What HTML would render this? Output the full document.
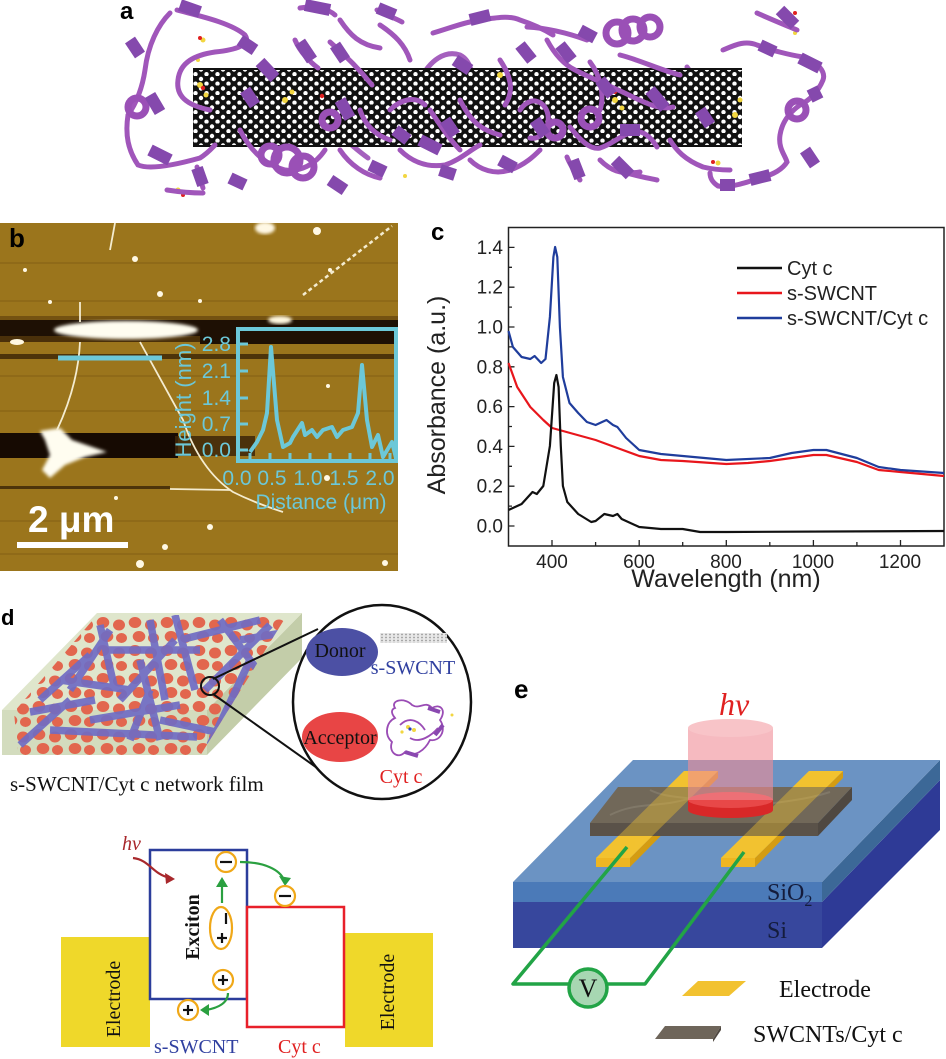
<!DOCTYPE html>
<html><head><meta charset="utf-8">
<style>
html,body{margin:0;padding:0;background:#fff;}
svg{display:block;}
.sans{font-family:"Liberation Sans",Arial,sans-serif;}
.serif{font-family:"Liberation Serif","Times New Roman",serif;}
</style></head>
<body>
<svg xmlns="http://www.w3.org/2000/svg" width="946" height="1059" viewBox="0 0 946 1059">
<defs>
  <pattern id="mesh" width="11" height="9.5" patternUnits="userSpaceOnUse">
    <rect width="11" height="9.5" fill="#111"/>
    <circle cx="3" cy="3" r="2.2" fill="#fff"/>
    <circle cx="8.5" cy="7.7" r="2.2" fill="#fff"/>
  </pattern>
  <pattern id="dots" width="32" height="28" patternUnits="userSpaceOnUse">
    <ellipse cx="7" cy="6.5" rx="6.3" ry="5.5" fill="#e2664e"/>
    <ellipse cx="23" cy="9" rx="6" ry="5.5" fill="#e2664e"/>
    <ellipse cx="11" cy="20.5" rx="6.3" ry="5.5" fill="#e2664e"/>
    <ellipse cx="25.5" cy="22" rx="5.5" ry="5" fill="#e2664e"/>
  </pattern>
  <clipPath id="filmclip"><polygon points="97,615 287,615 200,756 18,756 14,712"/></clipPath>
  <filter id="bl1"><feGaussianBlur stdDeviation="1.5"/></filter>
  <pattern id="cnt" width="4" height="3" patternUnits="userSpaceOnUse">
    <rect width="4" height="3" fill="#e8e8e8"/><circle cx="2" cy="1.5" r="0.9" fill="#999"/>
  </pattern>
</defs>

<!-- ================= PANEL A ================= -->
<text x="120" y="19" class="sans" font-size="24" font-weight="bold">a</text>
<g fill="none" stroke="#a057ba" stroke-width="5" stroke-linecap="round" opacity="0.95">
  <path d="M263,65 C280,80 300,100 318,115 C335,130 350,145 368,158"/>
  <path d="M420,80 C430,60 445,50 460,55 C470,60 475,75 470,90"/>
  <path d="M687,67 C697,80 703,92 703,100 C702,112 698,120 690,126"/>
</g>
<rect x="193" y="68" width="549" height="79" fill="url(#mesh)"/>
<line x1="193" y1="69" x2="742" y2="69" stroke="#111" stroke-width="2"/>
<line x1="193" y1="146" x2="742" y2="146" stroke="#111" stroke-width="2"/>
<g fill="#f2d640">
  <circle cx="200" cy="85" r="3"/><circle cx="206" cy="95" r="2.5"/><circle cx="285" cy="100" r="3"/><circle cx="292" cy="92" r="2.5"/>
  <circle cx="500" cy="75" r="3"/><circle cx="615" cy="100" r="3"/><circle cx="622" cy="108" r="2.5"/><circle cx="735" cy="115" r="3"/><circle cx="740" cy="100" r="2.5"/>
  <circle cx="790" cy="15" r="2.5"/><circle cx="795" cy="33" r="2"/><circle cx="178" cy="190" r="2.5"/><circle cx="405" cy="176" r="2"/><circle cx="718" cy="163" r="2.5"/>
  <circle cx="203" cy="40" r="2.5"/><circle cx="198" cy="60" r="2"/>
</g>
<g fill="#e02020">
  <circle cx="203" cy="88" r="2.2"/><circle cx="322" cy="96" r="2.2"/><circle cx="795" cy="13" r="2"/><circle cx="183" cy="195" r="2"/><circle cx="713" cy="162" r="2"/><circle cx="615" cy="92" r="2"/><circle cx="200" cy="38" r="2"/>
</g>
<g fill="none" stroke="#a056ba" stroke-width="5" stroke-linecap="round">
  <path d="M177,10 C195,15 230,22 245,35 C252,45 235,50 215,52 C195,55 180,62 178,80 C176,95 185,105 210,110"/>
  <path d="M170,13 C158,25 148,45 145,70 C142,90 135,105 128,115 C125,135 128,150 138,165 C150,170 175,165 200,158 C208,153 212,148 215,145"/>
  <path d="M300,8 C315,5 330,10 335,15 M295,40 C300,52 310,62 318,68"/>
  <path d="M330,42 C345,55 360,70 372,85"/>
  <path d="M377,10 C385,15 395,18 402,22 M380,25 C395,35 405,45 410,60"/>
  <path d="M433,33 C450,28 465,22 480,20 C495,18 510,15 520,20 C535,25 545,30 553,35"/>
  <path d="M527,27 C545,28 565,32 587,40"/>
  <path d="M547,40 C555,55 565,65 575,70 C595,80 615,88 635,98 C650,105 662,110 673,107"/>
  <path d="M570,127 C580,140 590,150 600,148 C610,145 618,138 625,135 C635,130 645,128 657,147"/>
  <path d="M567,157 C570,165 575,172 580,180 M627,173 C637,176 648,178 657,180"/>
  <path d="M723,50 C735,45 745,40 757,45 C770,50 790,55 803,57 C818,62 826,72 823,80 C818,92 810,100 800,105 C790,112 782,122 780,135 C778,148 785,155 787,162 C782,170 772,175 760,178 C745,183 730,188 718,186 C712,182 710,178 710,173"/>
  <path d="M757,13 C768,18 785,25 797,30"/>
  <path d="M670,140 C676,150 685,160 703,167 C715,170 725,170 730,170"/>
  <path d="M197,167 C199,175 201,182 203,188 M167,190 C180,192 192,193 203,193"/>
  <path d="M240,130 C250,150 265,165 285,170 C300,172 315,165 325,150"/>
  <path d="M340,150 C350,165 365,175 380,178"/>
  <path d="M400,150 C410,160 425,168 445,165 C460,160 470,150 480,145"/>
  <path d="M470,160 C480,170 495,175 510,170 C525,165 535,155 540,150"/>
  <path d="M500,60 C510,75 515,90 505,105 M460,100 C470,120 480,130 500,135"/>
  <path d="M600,160 C610,170 620,175 640,172"/>
  <path d="M520,110 C530,95 545,100 548,115 C550,130 540,140 530,138"/>
  <path d="M430,110 C440,125 450,140 460,150"/>
  <path d="M340,20 C350,35 360,45 380,48 M590,62 C600,75 605,95 600,110 M390,110 C400,100 415,95 425,105"/>
  <path d="M360,110 C365,125 375,135 390,140 M620,55 C640,60 660,70 680,75"/>
</g>
<g fill="none" stroke="#9a50b6" stroke-width="7">
  <circle cx="137" cy="107" r="9"/><circle cx="287" cy="160" r="13"/><circle cx="303" cy="167" r="11"/><circle cx="270" cy="155" r="9"/>
  <circle cx="617" cy="33" r="11"/><circle cx="633" cy="30" r="11"/><circle cx="650" cy="27" r="10"/><circle cx="797" cy="110" r="9"/>
  <circle cx="555" cy="130" r="8"/><circle cx="590" cy="118" r="9"/><circle cx="330" cy="120" r="8"/>
</g>
<g fill="none" stroke="#8549ad" stroke-width="12" stroke-linecap="butt">
  <path d="M180,5 L200,12 M305,5 L330,10 M300,42 L312,60 M335,45 L345,60 M378,8 L395,15 M260,62 L275,78 M340,100 L350,118"/>
  <path d="M470,20 L490,15 M580,30 L595,38 M560,45 L572,60 M650,90 L665,108 M620,130 L640,130 M615,160 L630,175 M573,160 L580,178"/>
  <path d="M760,45 L775,52 M800,58 L820,68 M812,88 L818,100 M750,180 L770,175 M720,185 L735,185 M150,150 L170,160 M197,168 L203,185"/>
  <path d="M230,178 L245,185 M420,140 L440,150 M500,160 L515,168 M370,165 L385,172 M780,10 L795,25 M445,120 L455,135 M130,40 L140,55"/>
  <path d="M150,95 L160,112 M240,40 L255,50 M455,60 L470,70 M700,110 L710,125 M805,150 L815,165 M440,170 L455,175 M330,180 L345,190"/>
  <path d="M520,45 L532,60 M600,80 L612,95 M395,130 L408,140 M245,90 L255,105 M535,120 L545,135"/>
</g>

<!-- ================= PANEL B (AFM) ================= -->
<rect x="0" y="223" width="398" height="348" fill="#9b751c"/>
<g opacity="0.18" fill="#5a3e08">
  <rect x="0" y="262" width="398" height="2"/><rect x="0" y="300" width="398" height="2"/>
  <rect x="0" y="375" width="398" height="2"/><rect x="0" y="410" width="398" height="2"/>
  <rect x="0" y="520" width="398" height="2"/><rect x="0" y="553" width="398" height="2"/>
</g>
<rect x="0" y="316" width="398" height="4" fill="#5a3a0a" opacity="0.6"/>
<rect x="0" y="320" width="398" height="16" fill="#1e1004"/>
<rect x="200" y="320" width="198" height="24" fill="#1e1004"/>
<rect x="0" y="336" width="200" height="6" fill="#4a300a"/>
<rect x="0" y="354" width="398" height="5" fill="#3a2406" opacity="0.8"/>
<ellipse cx="126" cy="330" rx="72" ry="9" fill="#fffdf0" filter="url(#bl1)"/>
<ellipse cx="17" cy="342" rx="7" ry="3" fill="#fff8e0"/>
<ellipse cx="280" cy="320" rx="12" ry="4" fill="#fff8e0" filter="url(#bl1)"/>
<rect x="0" y="433" width="178" height="25" fill="#160a02"/>
<rect x="175" y="436" width="80" height="20" fill="#3d2608" opacity="0.85"/>
<rect x="0" y="486" width="170" height="3" fill="#3a2406" opacity="0.8"/>
<polygon points="40,431 60,428 72,440 107,452 85,457 65,465 50,478 42,470 50,455 45,440" fill="#fffdf0" filter="url(#bl1)"/>
<g fill="#fff8e4">
  <ellipse cx="265" cy="228" rx="10" ry="6" filter="url(#bl1)"/>
  <circle cx="317" cy="231" r="4"/><circle cx="135" cy="259" r="3"/><circle cx="160" cy="294" r="3"/>
  <circle cx="200" cy="301" r="2"/><circle cx="25" cy="270" r="2"/><circle cx="327" cy="478" r="3"/>
  <circle cx="210" cy="527" r="3"/><circle cx="165" cy="547" r="3"/><circle cx="140" cy="564" r="4"/>
  <circle cx="385" cy="563" r="3"/><circle cx="330" cy="270" r="2"/><circle cx="50" cy="302" r="2"/>
  <circle cx="116" cy="498" r="2"/><circle cx="328" cy="386" r="2"/>
</g>
<g fill="none" stroke="#f4ecd0" stroke-width="1.8">
  <path d="M115,223 L110,250"/>
  <path d="M303,295 L392,226" stroke-dasharray="4 3" stroke-width="2.5"/>
  <path d="M80,302 L80,322"/>
  <path d="M80,342 Q78,385 57,430"/>
  <path d="M140,342 L183,420 Q200,470 233,492 Q255,503 283,512"/>
  <path d="M170,489 L230,490"/>
</g>
<line x1="58" y1="358" x2="162" y2="358" stroke="#6cc8d8" stroke-width="5"/>
<rect x="238" y="329" width="158" height="132" fill="none" stroke="#6cc8d8" stroke-width="4"/>
<g stroke="#6cc8d8" stroke-width="3">
  <line x1="240" y1="344" x2="248" y2="344"/><line x1="240" y1="371" x2="248" y2="371"/>
  <line x1="240" y1="398" x2="248" y2="398"/><line x1="240" y1="424" x2="248" y2="424"/>
  <line x1="240" y1="450" x2="248" y2="450"/>
  <line x1="250" y1="459" x2="250" y2="453"/><line x1="270" y1="459" x2="270" y2="453"/>
  <line x1="290" y1="459" x2="290" y2="453"/><line x1="310" y1="459" x2="310" y2="453"/>
  <line x1="330" y1="459" x2="330" y2="453"/><line x1="350" y1="459" x2="350" y2="453"/>
  <line x1="370" y1="459" x2="370" y2="453"/><line x1="390" y1="459" x2="390" y2="453"/>
</g>
<polyline fill="none" stroke="#6cc8d8" stroke-width="4" stroke-linejoin="round"
 points="250,452 257,442 263,430 267,413 271,347 277,420 283,447 290,443 293,437 302,423 305,435 312,430 317,437 323,430 332,427 337,437 343,430 352,427 358,413 362,365 367,420 372,447 378,435 383,457 392,442 396,458"/>
<g class="sans" font-size="21" fill="#6cc8d8" text-anchor="end">
  <text x="231" y="351">2.8</text><text x="231" y="378">2.1</text><text x="231" y="405">1.4</text>
  <text x="231" y="431">0.7</text><text x="231" y="457">0.0</text>
</g>
<g class="sans" font-size="21" fill="#6cc8d8" text-anchor="middle">
  <text x="237" y="485">0.0</text><text x="272" y="485">0.5</text><text x="308" y="485">1.0</text>
  <text x="344" y="485">1.5</text><text x="380" y="485">2.0</text>
  <text x="321" y="509">Distance (μm)</text>
</g>
<text class="sans" font-size="22" fill="#6cc8d8" text-anchor="middle" transform="translate(191,400) rotate(-90)">Height (nm)</text>
<rect x="17" y="542" width="111" height="6" fill="#fff"/>
<text x="28" y="532" class="sans" font-size="37" font-weight="bold" fill="#fff">2 μm</text>
<text x="9" y="247" class="sans" font-size="26" font-weight="bold" fill="#000">b</text>

<!-- ================= PANEL C ================= -->
<text x="431" y="240" class="sans" font-size="24" font-weight="bold">c</text>
<rect x="508.5" y="227.5" width="435.5" height="318.5" fill="none" stroke="#222" stroke-width="1.5"/>
<g stroke="#222" stroke-width="1.3">
  <path d="M508.5,526 h6 M508.5,486.2 h6 M508.5,446.4 h6 M508.5,406.6 h6 M508.5,366.8 h6 M508.5,327 h6 M508.5,287.2 h6 M508.5,247.4 h6"/>
  <path d="M508.5,506.1 h3.5 M508.5,466.3 h3.5 M508.5,426.5 h3.5 M508.5,386.7 h3.5 M508.5,346.9 h3.5 M508.5,307.1 h3.5 M508.5,267.3 h3.5"/>
  <path d="M552,546 v-6 M639.2,546 v-6 M726.3,546 v-6 M813.4,546 v-6 M900.5,546 v-6"/>
  <path d="M595.6,546 v-4 M682.7,546 v-4 M769.8,546 v-4 M856.9,546 v-4"/>
</g>
<g class="sans" font-size="19" fill="#222" text-anchor="end">
  <text x="503" y="532.5">0.0</text><text x="503" y="492.7">0.2</text><text x="503" y="452.9">0.4</text>
  <text x="503" y="413.1">0.6</text><text x="503" y="373.3">0.8</text><text x="503" y="333.5">1.0</text>
  <text x="503" y="293.7">1.2</text><text x="503" y="253.9">1.4</text>
</g>
<g class="sans" font-size="19" fill="#222" text-anchor="middle">
  <text x="552" y="568">400</text><text x="639" y="568">600</text><text x="726" y="568">800</text>
  <text x="813" y="568">1000</text><text x="900" y="568">1200</text>
</g>
<text x="726" y="587" class="sans" font-size="25" fill="#222" text-anchor="middle">Wavelength (nm)</text>
<text class="sans" font-size="25" fill="#222" text-anchor="middle" transform="translate(445,395) rotate(-90)">Absorbance (a.u.)</text>
<polyline fill="none" stroke="#e8161c" stroke-width="2.2" stroke-linejoin="round"
 points="508.5,363 517.2,387 530.3,407 543.3,420 552.1,428 573.8,434 595.6,440 617.4,448 639.2,456 660.9,460 682.7,461 726.3,464 748,463 769.8,461 791.6,458 813.4,455 826.4,455 856.9,462 878.7,470 900.5,472 944,476"/>
<polyline fill="none" stroke="#1f3d9c" stroke-width="2.2" stroke-linejoin="round"
 points="508.5,331 512.9,347 521.6,357 530.3,359 534.6,356 541.2,363 545.5,359 549.9,317 553.4,257 555.1,247 557.3,257 559.9,327 562.9,377 569.5,403 578.2,413 586.9,422 595.6,425 602.1,422 606.5,420 613,425 617.4,427 626.1,438 639.2,450 660.9,454 682.7,456 726.3,460 769.8,458 791.6,453 813.4,450 826.4,450 856.9,458 878.7,467 900.5,470 944,473"/>
<polyline fill="none" stroke="#111" stroke-width="2.2" stroke-linejoin="round"
 points="508.5,510 521.6,504 532.5,492 536.8,494 543.3,486 549.9,446 554.2,383 556.4,375 558.6,387 560.8,446 562.9,486 567.3,502 578.2,514 591.2,522 595.6,521 604.3,514 613,516 617.4,514 621.7,519 639.2,527 660.9,529 682.7,529 700.1,532 726.3,532 944,531"/>
<g stroke-width="2.5">
  <line x1="737" y1="268" x2="782" y2="268" stroke="#111"/>
  <line x1="737" y1="293" x2="782" y2="293" stroke="#e8161c"/>
  <line x1="737" y1="318" x2="782" y2="318" stroke="#1f3d9c"/>
</g>
<g class="sans" font-size="20" fill="#222">
  <text x="787" y="275">Cyt c</text><text x="787" y="300">s-SWCNT</text><text x="787" y="325">s-SWCNT/Cyt c</text>
</g>

<!-- ================= PANEL D (top) ================= -->
<text x="1" y="625" class="sans" font-size="22" font-weight="bold">d</text>
<polygon points="2,710 207,710 207,755 2,755" fill="#d3dcbe"/>
<polygon points="207,710 302,613 302,658 207,755" fill="#c3cda9"/>
<polygon points="2,710 97,613 302,613 207,710" fill="#dfe6cc"/>
<g clip-path="url(#filmclip)">
  <rect x="0" y="605" width="310" height="160" fill="url(#dots)"/>
  <g stroke="#6f6cc4" stroke-width="7.5" opacity="0.92" stroke-linecap="butt">
    <line x1="20" y1="745" x2="70" y2="700"/><line x1="30" y1="712" x2="95" y2="700"/>
    <line x1="50" y1="730" x2="197" y2="737"/><line x1="70" y1="690" x2="110" y2="630"/>
    <line x1="100" y1="625" x2="115" y2="690"/><line x1="105" y1="650" x2="200" y2="650"/>
    <line x1="120" y1="700" x2="175" y2="640"/><line x1="130" y1="740" x2="150" y2="690"/>
    <line x1="150" y1="620" x2="165" y2="700"/><line x1="175" y1="615" x2="195" y2="690"/>
    <line x1="180" y1="640" x2="260" y2="620"/><line x1="205" y1="690" x2="270" y2="625"/>
    <line x1="215" y1="740" x2="255" y2="690"/><line x1="230" y1="700" x2="290" y2="680"/>
    <line x1="240" y1="640" x2="300" y2="630"/><line x1="60" y1="680" x2="130" y2="690"/>
    <line x1="90" y1="720" x2="180" y2="705"/><line x1="140" y1="660" x2="160" y2="740"/>
    <line x1="250" y1="660" x2="210" y2="745"/><line x1="220" y1="620" x2="280" y2="700"/>
    <line x1="40" y1="700" x2="90" y2="655"/><line x1="160" y1="720" x2="230" y2="735"/>
  </g>
</g>
<text x="10" y="791" class="serif" font-size="21" fill="#111">s-SWCNT/Cyt c network film</text>
<line x1="213" y1="679" x2="318" y2="629" stroke="#111" stroke-width="2"/>
<line x1="213" y1="694" x2="320" y2="770" stroke="#111" stroke-width="2"/>
<circle cx="210" cy="686" r="9" fill="none" stroke="#111" stroke-width="2"/>
<ellipse cx="382" cy="702" rx="89" ry="97" fill="#fff" stroke="#111" stroke-width="2.5"/>
<ellipse cx="342" cy="652" rx="36" ry="24" fill="#4c50a4"/>
<ellipse cx="340" cy="737" rx="38" ry="25" fill="#e84545"/>
<rect x="380" y="633" width="67" height="10" fill="url(#cnt)"/>
<text x="340" y="657" class="serif" font-size="20" fill="#111" text-anchor="middle">Donor</text>
<text x="413" y="674" class="serif" font-size="20" fill="#3040a0" text-anchor="middle">s-SWCNT</text>
<text x="340" y="744" class="serif" font-size="20" fill="#111" text-anchor="middle">Acceptor</text>
<text x="401" y="783" class="serif" font-size="20" fill="#e02020" text-anchor="middle">Cyt c</text>
<g fill="none" stroke="#9a4cb5" stroke-width="1.8">
  <path d="M395,708 C390,700 405,697 412,705 C420,710 425,700 432,708 C440,703 447,710 440,720 C447,730 440,742 430,740 C425,750 415,758 405,752 C398,760 388,752 392,742 C384,735 386,722 395,718 C390,712 392,709 395,708 Z"/>
  <path d="M400,725 C410,715 420,722 425,730 M410,738 C420,744 432,735 438,728"/>
</g>
<g stroke="#8a48b0" stroke-width="4" fill="none"><path d="M428,708 L440,712 M435,735 L443,725 M405,752 L418,756"/></g>
<g fill="#f2d640"><circle cx="408" cy="727" r="2"/><circle cx="414" cy="730" r="2"/><circle cx="402" cy="732" r="1.6"/><circle cx="452" cy="715" r="1.5"/></g>
<circle cx="410" cy="729" r="1.6" fill="#2a40c0"/>

<!-- ================= PANEL D (bottom) ================= -->
<rect x="61" y="937" width="89" height="110" fill="#efd82a"/>
<rect x="345" y="933" width="88" height="114" fill="#efd82a"/>
<rect x="150" y="850" width="97" height="149" fill="#fff" stroke="#2b3d9b" stroke-width="2.5"/>
<rect x="247" y="907" width="97" height="120" fill="#fff" stroke="#e8202a" stroke-width="2.5"/>
<text class="serif" font-size="20" fill="#111" text-anchor="middle" transform="translate(120,999) rotate(-90)">Electrode</text>
<text class="serif" font-size="20" fill="#111" text-anchor="middle" transform="translate(394,992) rotate(-90)">Electrode</text>
<text class="serif" font-size="20" font-weight="bold" fill="#111" text-anchor="middle" transform="translate(199,927) rotate(-90)">Exciton</text>
<text x="122" y="850" class="serif" font-size="20" font-style="italic" fill="#a8282c">hv</text>
<path d="M133,858 C150,860 152,874 170,878" fill="none" stroke="#a8282c" stroke-width="2.2"/>
<polygon points="175,879 165,873 166,884" fill="#a8282c"/>
<g fill="none" stroke="#2aa040" stroke-width="2.2">
  <path d="M222,903 L222,884"/>
  <path d="M240,862 C265,862 280,870 284,880"/>
  <path d="M228,993 C228,1003 218,1008 206,1010"/>
</g>
<g fill="#2aa040">
  <polygon points="222,877 216,887 228,887"/>
  <polygon points="285,886 279,876 291,878"/>
  <polygon points="200,1010 209,1004 209,1016"/>
</g>
<g fill="#fff" stroke="#f0a818" stroke-width="2.2">
  <circle cx="226" cy="862" r="10"/><circle cx="285" cy="896" r="10"/>
  <ellipse cx="221" cy="928" rx="11" ry="21"/>
  <circle cx="223" cy="980" r="10"/><circle cx="188" cy="1010" r="10"/>
</g>
<g stroke="#111" stroke-width="2.2">
  <line x1="220" y1="862" x2="232" y2="862"/><line x1="279" y1="896" x2="291" y2="896"/>
  <line x1="226" y1="913" x2="226" y2="924"/>
  <line x1="217" y1="938" x2="227" y2="938"/><line x1="222" y1="933" x2="222" y2="943"/>
  <line x1="218" y1="980" x2="228" y2="980"/><line x1="223" y1="975" x2="223" y2="985"/>
  <line x1="183" y1="1010" x2="193" y2="1010"/><line x1="188" y1="1005" x2="188" y2="1015"/>
</g>
<text x="154" y="1053" class="serif" font-size="20" fill="#3040a0">s-SWCNT</text>
<text x="278" y="1053" class="serif" font-size="20" fill="#e02020">Cyt c</text>

<!-- ================= PANEL E ================= -->
<text x="514" y="698" class="sans" font-size="26" font-weight="bold">e</text>
<polygon points="822,902 940,780 940,830 822,948" fill="#2e3a96"/>
<polygon points="822,882 940,760 940,780 822,902" fill="#3c6897"/>
<rect x="513" y="902" width="309" height="46" fill="#37479d"/>
<rect x="513" y="882" width="309" height="20" fill="#4b7ab8"/>
<polygon points="513,882 633,760 940,760 822,882" fill="#6b93c3"/>
<g>
  <polygon points="630,858 718,771 718,778 630,867" fill="#d49c12"/>
  <rect x="596" y="858" width="34" height="9" fill="#eeb622"/>
  <polygon points="596,858 630,858 718,771 684,771" fill="#f2c230"/>
  <polygon points="755,858 843,771 843,778 755,867" fill="#d49c12"/>
  <rect x="721" y="858" width="34" height="9" fill="#eeb622"/>
  <polygon points="721,858 755,858 843,771 809,771" fill="#f2c230"/>
</g>
<polygon points="818,823 852,787 852,800 818,836" fill="#4f4841"/>
<rect x="590" y="823" width="228" height="13" fill="#5a5249"/>
<polygon points="590,823 618,787 852,787 818,823" fill="#716859"/>
<g opacity="0.25" fill="none" stroke="#b0a898" stroke-width="2">
  <path d="M610,815 C640,800 660,810 700,795 M730,815 C760,800 790,805 830,792 M650,790 C670,800 690,795 720,805"/>
</g>
<g opacity="0.4">
  <polygon points="596,858 630,858 718,771 684,771" fill="#f2c230"/>
  <polygon points="721,858 755,858 843,771 809,771" fill="#f2c230"/>
</g>
<ellipse cx="730.5" cy="810" rx="42.5" ry="8" fill="#d82828"/>
<rect x="688" y="800" width="85" height="10" fill="#d82828"/>
<ellipse cx="730.5" cy="800" rx="42.5" ry="8" fill="#e84848"/>
<rect x="688" y="728" width="85" height="72" fill="#f08c96" opacity="0.6"/>
<ellipse cx="730.5" cy="728" rx="42.5" ry="9" fill="#f8c4c8"/>
<text x="719" y="715" class="serif" font-size="32" font-style="italic" fill="#e02020">hv</text>
<text x="767" y="900" class="serif" font-size="24" fill="#141c3c">SiO<tspan font-size="16" dy="6">2</tspan></text>
<text x="767" y="938" class="serif" font-size="24" fill="#141c3c">Si</text>
<g fill="none" stroke="#22a446" stroke-width="3.5" stroke-linejoin="round">
  <path d="M627,847 L513,984 L569,984"/>
  <path d="M607,984 L645,984 L744,852"/>
</g>
<circle cx="588" cy="988" r="19" fill="#a7d7b2" stroke="#22a446" stroke-width="3.5"/>
<text x="588" y="997" class="serif" font-size="26" fill="#111" text-anchor="middle">V</text>
<polygon points="682,996 698,981 746,981 729,996" fill="#f2c230"/>
<text x="779" y="997" class="serif" font-size="24" fill="#111">Electrode</text>
<polygon points="655,1039 665,1026 721,1026 713,1039" fill="#6e655a"/>
<polygon points="713,1039 721,1026 721,1030 713,1042" fill="#4f4841"/>
<text x="753" y="1042" class="serif" font-size="24" fill="#111">SWCNTs/Cyt  c</text>
</svg>
</body></html>
